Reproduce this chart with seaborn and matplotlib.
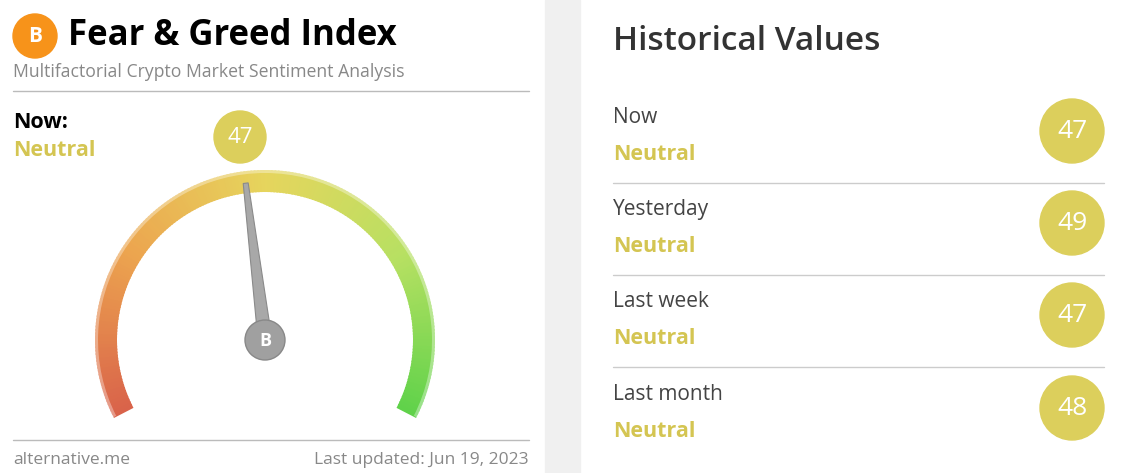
import matplotlib.pyplot as plt
import seaborn as sns
import numpy as np
from matplotlib.patches import Wedge, Circle, Polygon, Rectangle
from matplotlib.colors import LinearSegmentedColormap

sns.set_theme(style="white")
plt.rcParams['font.family'] = ['Open Sans', 'DejaVu Sans']

# data
now_value = 47
now_label = "Neutral"
periods = ["Now", "Yesterday", "Last week", "Last month"]
values = [47, 49, 47, 48]
statuses = ["Neutral", "Neutral", "Neutral", "Neutral"]

yellow = "#dccf5c"
text_yellow = "#d4c552"

fig = plt.figure(figsize=(11.27, 4.73), dpi=100)
ax = fig.add_axes([0, 0, 1, 1])
ax.set_xlim(0, 1127)
ax.set_ylim(473, 0)
ax.axis("off")

# gray divider strip
ax.add_patch(Rectangle((545, 0), 35, 473, color="#f0f0f0", zorder=0))

# ---- left panel ----
ax.add_patch(Circle((35, 36), 22, color="#f7931a"))
ax.text(35, 37, "B", color="white", fontsize=15, fontweight="bold", ha="center", va="center")
ax.text(68, 36, "Fear & Greed Index", fontsize=25, fontweight="bold", color="black", va="center")
ax.text(13, 72, "Multifactorial Crypto Market Sentiment Analysis", fontsize=12.7, color="#888888", va="center")
ax.plot([13, 529], [91, 91], color="#bbbbbb", lw=1)

ax.text(13, 122, "Now:", fontsize=15.5, fontweight="bold", color="black", va="center")
ax.text(13, 150, now_label, fontsize=15.5, fontweight="bold", color=text_yellow, va="center")

ax.add_patch(Circle((240, 137), 26, color=yellow))
ax.text(240, 137, str(now_value), fontsize=16, color="white", ha="center", va="center")

# gauge
cx, cy = 265, 340
r_out, r_in = 170, 148
a_start, a_end = 207, -27
cmap = LinearSegmentedColormap.from_list("fg", ["#d9634a", "#eca44f", "#e6d55d", "#b7e062", "#5fd24a"])
n = 200
angs = np.linspace(a_start, a_end, n + 1)
for i in range(n):
    a1, a2 = angs[i + 1], angs[i]
    ax.add_patch(Wedge((cx, cy), r_out, -a2 - 0.3, -a1 + 0.3, width=r_out - r_in,
                       color=cmap(i / n), lw=0, zorder=2))
ax.add_patch(Wedge((cx, cy), r_out + 1, -a_start, -a_end, width=4, color="white", alpha=0.35, lw=0, zorder=3))

# needle
theta = np.radians(a_start - now_value / 100 * (a_start - a_end))
tip = (cx + (r_out - 12) * np.cos(theta), cy - (r_out - 12) * np.sin(theta))
perp = np.array([np.sin(theta), np.cos(theta)])
base1 = (cx + 7 * perp[0], cy + 7 * perp[1])
base2 = (cx - 7 * perp[0], cy - 7 * perp[1])
tip1 = (tip[0] + 2.5 * perp[0], tip[1] + 2.5 * perp[1])
tip2 = (tip[0] - 2.5 * perp[0], tip[1] - 2.5 * perp[1])
ax.add_patch(Polygon([base1, tip1, tip2, base2], color="#a8a8a8", ec="#8a8a8a", lw=0.8, zorder=4))
ax.add_patch(Circle((cx, cy), 20, color="#a0a0a0", ec="#888888", lw=1, zorder=5))
ax.text(cx, cy + 1, "B", color="white", fontsize=13, fontweight="bold", ha="center", va="center", zorder=6)

ax.plot([13, 529], [440, 440], color="#bbbbbb", lw=1)
ax.text(13, 460, "alternative.me", fontsize=12.5, color="#888888", va="center")
ax.text(529, 460, "Last updated: Jun 19, 2023", fontsize=12.5, color="#888888", va="center", ha="right")

# ---- right panel ----
ax.text(613, 42, "Historical Values", fontsize=24, fontweight="semibold", color="#333333", va="center")
row_top = [117, 209, 301, 394]
for i, (p, v, s) in enumerate(zip(periods, values, statuses)):
    y = row_top[i]
    ax.text(613, y, p, fontsize=15, color="#444444", va="center")
    ax.text(613, y + 37, s, fontsize=15.5, fontweight="bold", color=text_yellow, va="center")
    ax.add_patch(Circle((1072, y + 14), 32, color=yellow))
    ax.text(1072, y + 14, str(v), fontsize=19, color="white", ha="center", va="center")
    if i < len(periods) - 1:
        ax.plot([613, 1104], [y + 66, y + 66], color="#cccccc", lw=1)

fig.savefig("out.png", dpi=100)
